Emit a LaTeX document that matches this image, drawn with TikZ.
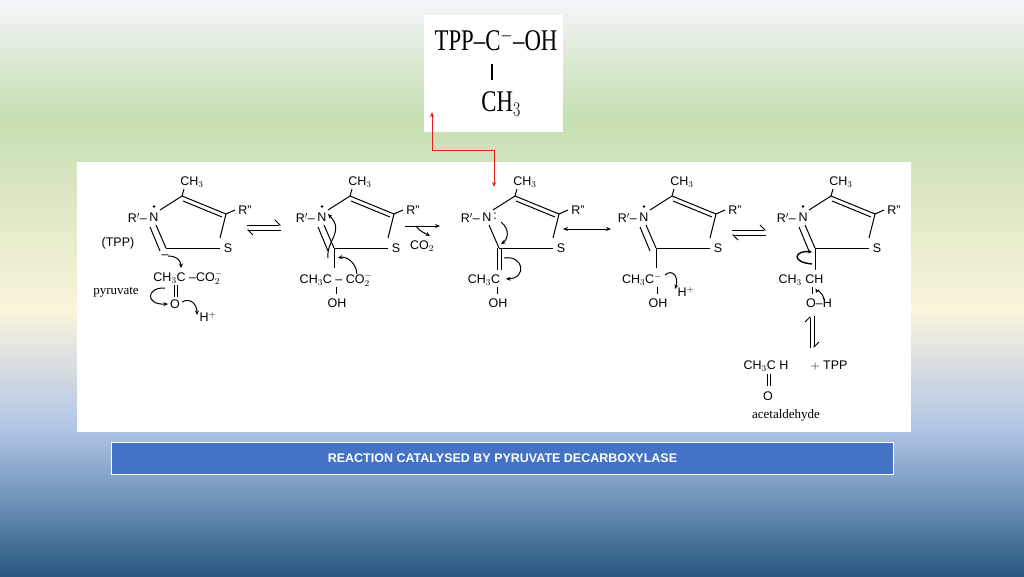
\documentclass[tikz,border=0pt]{standalone}
\usepackage{fontspec}
\setmainfont{Liberation Serif}
\setsansfont{Liberation Sans}
\usetikzlibrary{arrows.meta}
\definecolor{bgA}{HTML}{F3F5F8}
\definecolor{bgB}{HTML}{C6DFB2}
\definecolor{bgC}{HTML}{FBF4DA}
\definecolor{bgD}{HTML}{AFC4E6}
\definecolor{bgE}{HTML}{6F93B8}
\definecolor{bgF}{HTML}{28577F}
\definecolor{capblue}{HTML}{4472C4}
\definecolor{redarr}{HTML}{E02020}
\tikzset{
  chem/.style={font=\sffamily\fontsize{12.5}{13}\selectfont, inner sep=0pt},
  serifl/.style={font=\rmfamily\fontsize{13}{14}\selectfont, inner sep=0pt},
  bond/.style={line width=1pt},
  curly/.style={line width=1pt,-{Stealth[length=4.5pt,width=4pt]}},
  rarrow/.style={line width=0.9pt,-{Stealth[length=5pt,width=4pt]}},
  harp/.style={line width=0.9pt,-{Straight Barb[left,length=5pt]}},
  topt/.style={font=\rmfamily\fontsize{30}{32}\selectfont,inner sep=0pt,xscale=0.76},
}
\newcommand{\thring}[3]{% #1 x offset, #2 name, #3 double C2=N (1/0)
  \node[chem] (#2N) at (#1,217) {N};
  \node[chem] (#2M) at (#1+38,182) {CH$_3$};
  \node[chem] (#2R) at (#1+91,210) {R''};
  \node[chem] (#2S) at (#1+74,248) {S};
  \coordinate (#2a) at (#1+28,196);
  \coordinate (#2b) at (#1+72,214);
  \coordinate (#2c) at (#1+12,248);
  \draw[bond] (#1+6,210) -- (#2a);
  \draw[bond] (#2a) -- (#2b);
  \draw[bond] (#1+29,201) -- (#1+68,217);
  \draw[bond] (#2a) -- (#1+30,189);
  \draw[bond] (#2b) -- (#1+81,210);
  \draw[bond] (#2b) -- (#1+66,238);
  \draw[bond] (#2c) -- (#1+66,248);
  \draw[bond] (#1+2,225) -- (#2c);
  \ifnum#3=1 \draw[bond] (#1-4,227) -- (#1+6,251);\fi
}
\newcommand{\ndot}[1]{\fill (#1,206.5) circle (1.3pt);}
\begin{document}
\begin{tikzpicture}[x=1pt,y=-1pt]
\useasboundingbox (0,0) rectangle (1024,576);
\shade[top color=bgA,bottom color=bgB] (0,0) rectangle (1024,120);
\shade[top color=bgB,bottom color=bgC] (0,119.5) rectangle (1024,310);
\shade[top color=bgC,bottom color=bgD] (0,309.5) rectangle (1024,430);
\shade[top color=bgD,bottom color=bgE] (0,429.5) rectangle (1024,500);
\shade[top color=bgE,bottom color=bgF] (0,499.5) rectangle (1024,576);
% top box
\node[fill=white,minimum width=139pt,minimum height=117pt,inner sep=0pt,anchor=north west] (topbox) at (424,15) {};
\node[topt] (tpp) at (496,40) {TPP--C$^{-}$--OH};
\node[topt] (ch3top) at (501,104) {CH$_3$};
\draw[line width=1.3pt] (492,64) -- (492,80);
% panel
\node[fill=white,minimum width=834pt,minimum height=270pt,inner sep=0pt,anchor=north west] (panel) at (77,162) {};
% red arrow
\coordinate (ra) at (432,112);
\coordinate (rb) at (494,187);
\draw[redarr,line width=1pt,{Stealth[length=5pt,width=4pt]}-{Stealth[length=5pt,width=4pt]}] (ra) -- (432,150) -- (494,150) -- (rb);
% rings
\thring{154}{a}{1}
\thring{322}{b}{1}
\thring{487}{c}{0}
\thring{644}{d}{1}
\thring{803}{e}{1}
\node[chem,anchor=east] at (147,218) {R$'$--};
\ndot{154}
\node[chem,anchor=east] at (315,218) {R$'$--};
\ndot{322}
\node[chem,anchor=east] at (480,218) {R$'$--};
\node[chem] at (495,216) {:};
\node[chem,anchor=east] at (637,218) {R$'$--};
\ndot{644}
\node[chem,anchor=east] at (796,218) {R$'$--};
\ndot{803}
% ring 1 substituents
\node[chem] at (118,243) {(TPP)};
\node[chem] at (165,257) {--};
\draw[curly] (168,256) .. controls (178,256) and (181,262) .. (181,268);
\node[chem] (p1) at (188,278) {CH$_3$C --CO$_2^-$};
\draw[bond] (174,285) -- (174,297);
\draw[bond] (177,285) -- (177,297);
\node[chem] (o1) at (175,304) {O};
\node[serifl] (pyr) at (116,292) {pyruvate};
\draw[curly] (165,288) .. controls (146,287) and (145,305) .. (168,304);
\node[chem] (h1) at (208,317) {H$^+$};
\draw[curly] (182,302) .. controls (191,297) and (197,305) .. (197,315);
% ring 2 substituents
\draw[bond] (334,248) -- (334,268);
\node[chem] at (336,280) {CH$_3$C -- CO$_2^-$};
\draw[bond] (336,287) -- (336,294);
\node[chem] at (337,303) {OH};
\draw[curly] (328,258) .. controls (326,240) and (345,232) .. (328,214);
\draw[curly] (357,274) .. controls (356,262) and (346,256) .. (338,258);
% ring 3 substituents
\draw[bond] (501,248) -- (501,270);
\draw[bond] (497,248) -- (497,270);
\node[chem] at (484,280) {CH$_3$C};
\draw[bond] (497,287) -- (497,294);
\node[chem] at (498,303) {OH};
\draw[curly] (501,222) .. controls (511,230) and (507,240) .. (501,244);
\draw[curly] (504,258) .. controls (524,255) and (527,278) .. (506,279);
% ring 4 substituents
\draw[bond] (656,248) -- (656,268);
\node[chem] at (642,280) {CH$_3$C$^-$};
\draw[bond] (657,287) -- (657,294);
\node[chem] at (658,303) {OH};
\node[chem] at (686,292) {H$^+$};
\draw[curly] (665,275) .. controls (673,268) and (679,278) .. (675,289);
% ring 5 substituents
\draw[bond] (815,248) -- (815,270);
\node[chem] at (801,280) {CH$_3$ CH};
\draw[bond] (812,287) -- (812,294);
\node[chem] at (819,303) {O--H};
\draw[curly] (824,300) .. controls (823,292) and (817,290) .. (816,293);
\draw[line width=1.4pt,-{Stealth[length=4pt,width=4pt]}] (812,264) .. controls (790,262) and (795,250) .. (812,252);
\draw[harp] (810,348) -- (810,316);
\draw[harp] (814,316) -- (814,348);
\node[chem] at (766,366) {CH$_3$C H};
\node[chem] at (829,366) {$+$ TPP};
\draw[bond] (767,374) -- (767,386);
\draw[bond] (770,374) -- (770,386);
\node[chem] at (768,396) {O};
\node[serifl] at (786,415) {acetaldehyde};
% reaction arrows
\draw[harp] (247,225) -- (281,225);
\draw[harp] (281,230) -- (247,230);
\draw[rarrow] (405,226) -- (440,226);
\draw[curly] (416,226) .. controls (420,232) and (425,233) .. (430,236);
\node[chem] at (422,246) {CO$_2$};
\draw[line width=0.9pt,{Stealth[length=5pt,width=4pt]}-{Stealth[length=5pt,width=4pt]}] (563,229) -- (611,229);
\draw[harp] (732,230) -- (766,230);
\draw[harp] (766,235) -- (732,235);
% caption
\node[fill=capblue,draw=white,line width=1pt,minimum width=782pt,minimum height=32pt,inner sep=0pt,anchor=north west,
  text=white,font=\sffamily\bfseries\fontsize{12.5}{13}\selectfont] (cap) at (111,442) {REACTION CATALYSED BY PYRUVATE DECARBOXYLASE};
\end{tikzpicture}
\end{document}
